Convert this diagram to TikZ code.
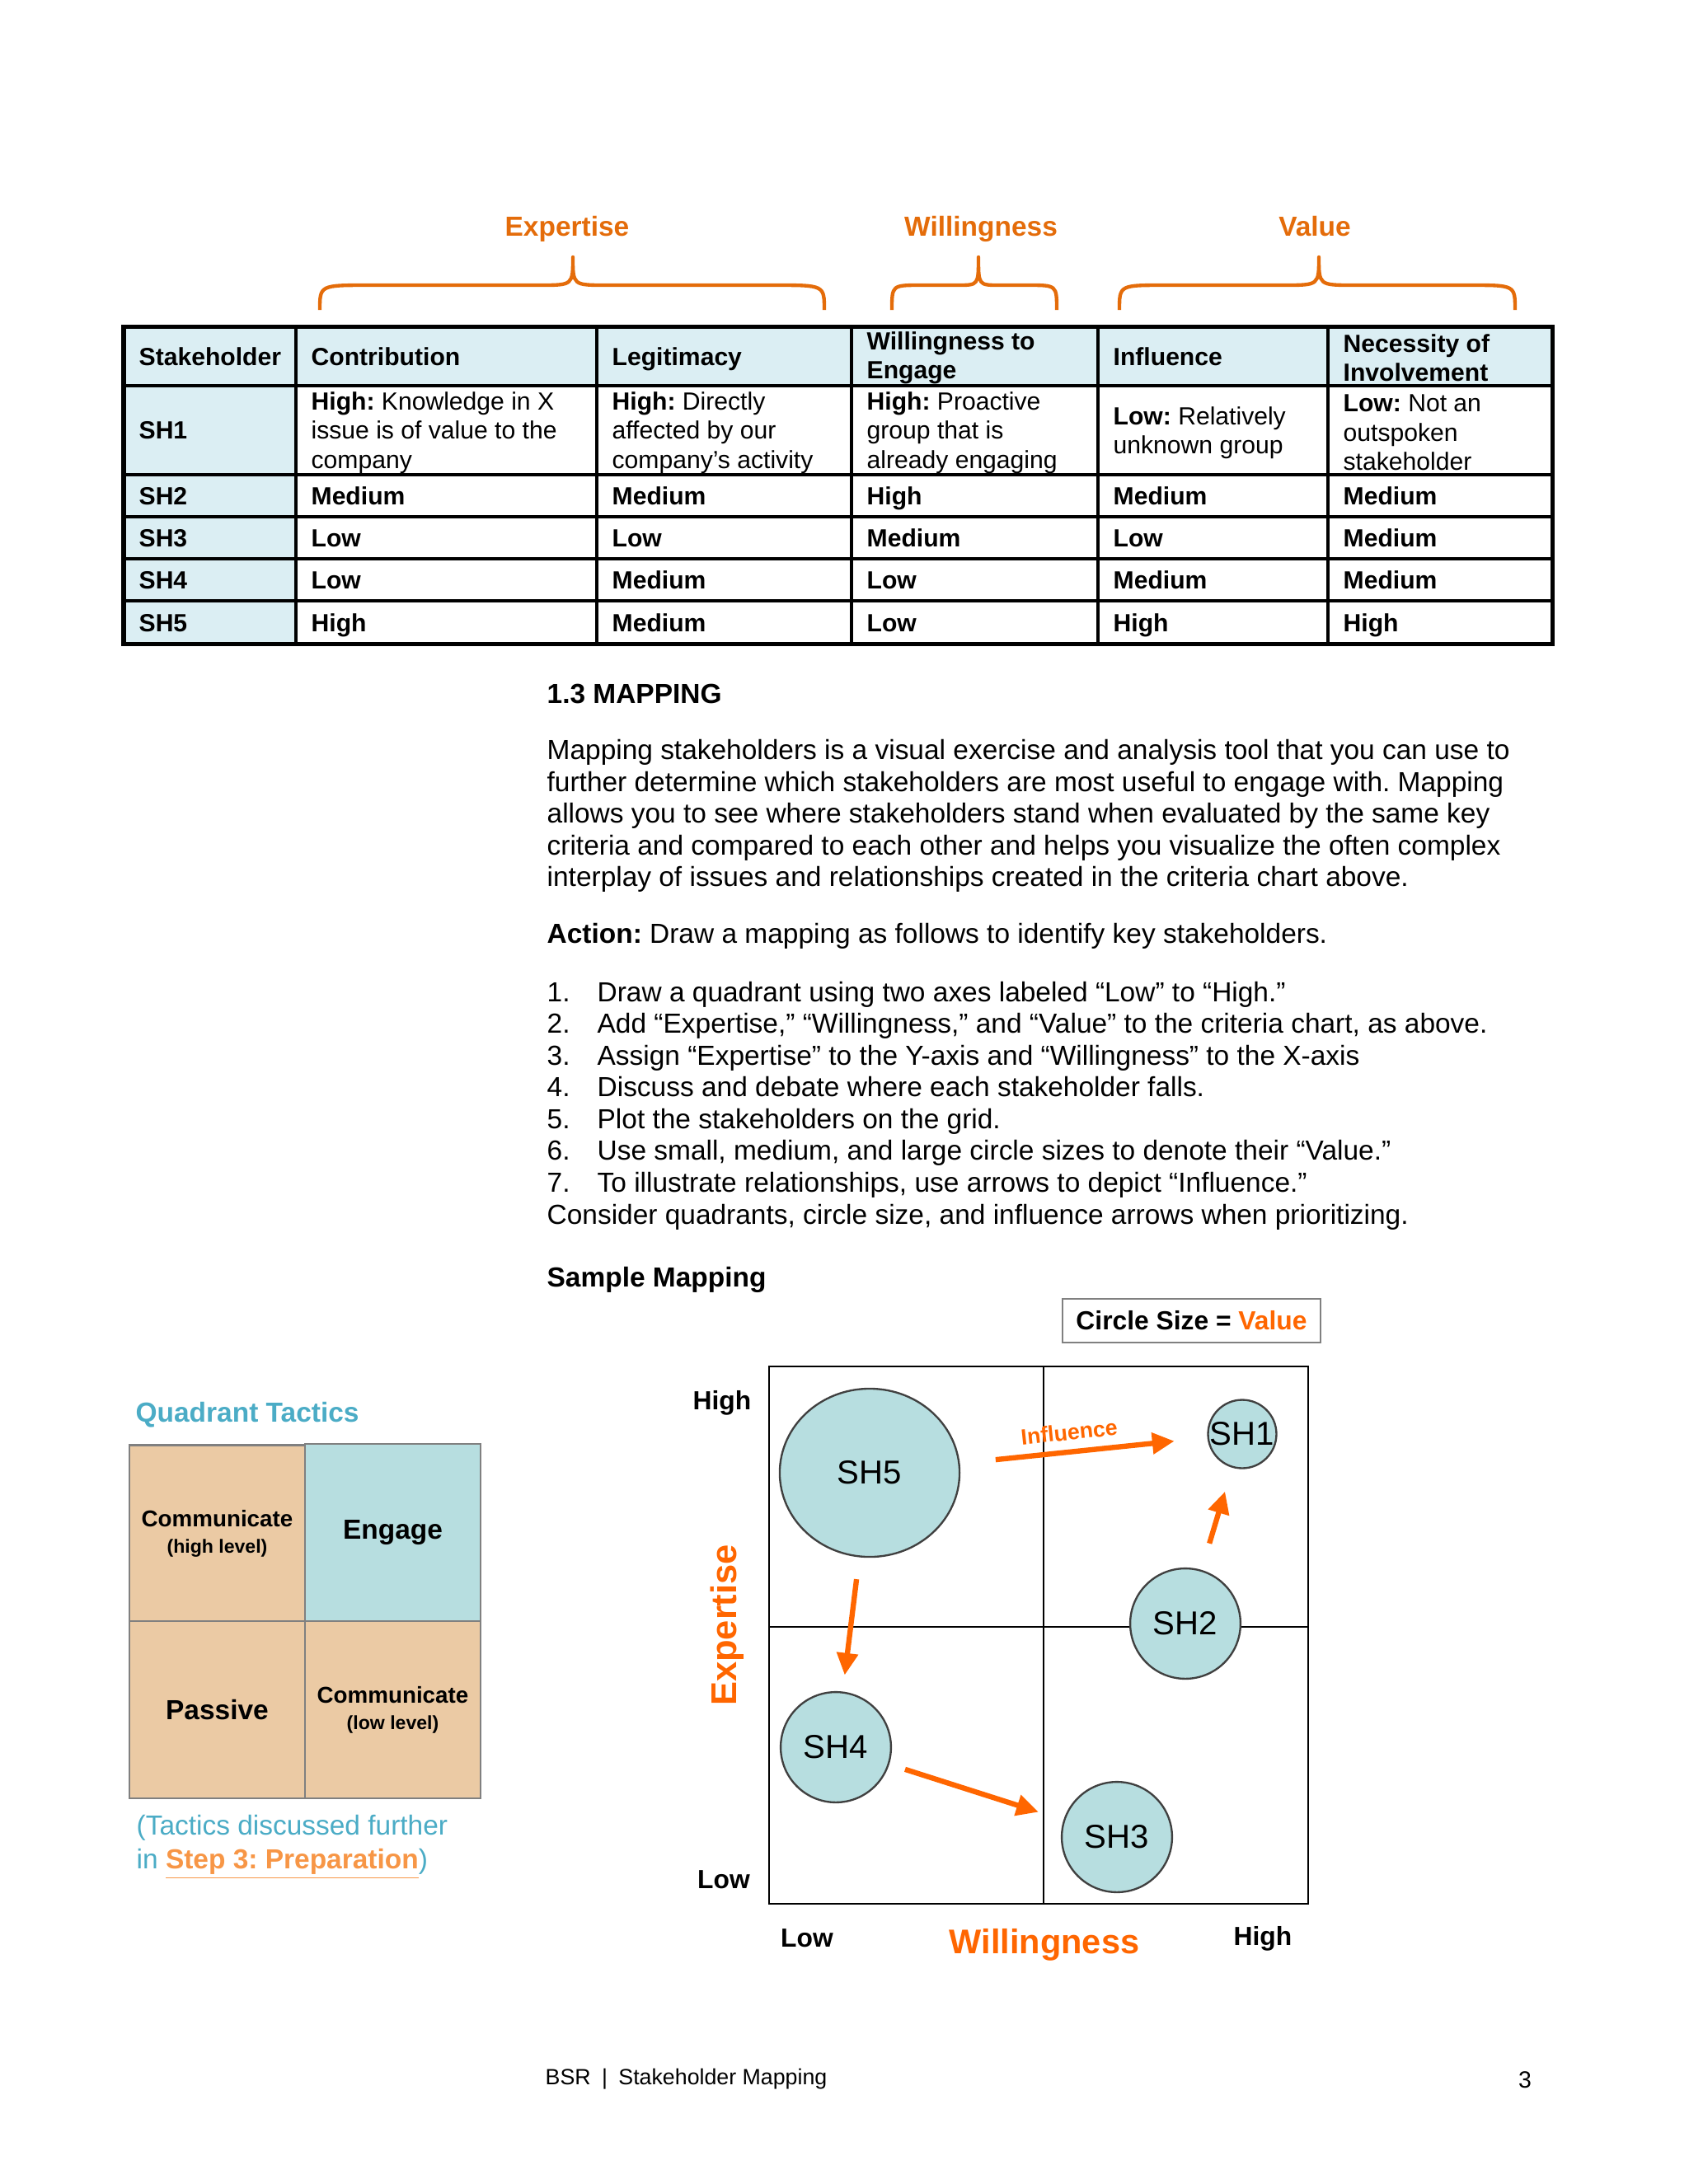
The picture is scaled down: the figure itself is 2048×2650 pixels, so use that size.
\documentclass[tikz,border=0pt]{standalone}
\usepackage{fontspec}
\setmainfont{Liberation Sans}
\usetikzlibrary{arrows.meta, shapes.geometric}
\definecolor{tblblue}{HTML}{DBEEF3}
\definecolor{braceorange}{HTML}{E46C0A}
\definecolor{maporange}{HTML}{FF6600}
\definecolor{tacticsteal}{HTML}{4BACC6}
\definecolor{linkorange}{HTML}{F79646}
\definecolor{quadtan}{HTML}{EBCAA4}
\definecolor{shfill}{HTML}{B7DEE0}
\frenchspacing

\newcommand{\fsz}[2]{\fontsize{#1}{#2}\selectfont}
% left end, tip, right end, end radius, tip radius
\newcommand{\critbrace}[5]{%
  \draw[bracestyle] (#1,376) .. controls (#1,346) .. (#1+#4,346) -- (#2-#5,346)
    .. controls (#2,346) .. (#2,312) .. controls (#2,346) .. (#2+#5,346)
    -- (#3-#4,346) .. controls (#3,346) .. (#3,376);}

\begin{document}
\begin{tikzpicture}[x=0.29887pt, y=-0.29887pt,
  bodytxt/.style={font=\fsz{10}{11.5}, inner sep=0, anchor=base west},
  tblcell/.style={font=\fsz{9}{10.6}, inner sep=0, anchor=west, align=left},
  tblword/.style={font=\bfseries\fsz{9}{10.6}, inner sep=0, anchor=base west},
  tblline/.style={line width=1.2pt},
  bracestyle/.style={draw=braceorange, line width=1.3pt, line join=round},
  bracelbl/.style={font=\bfseries\fsz{10}{12}, text=braceorange, anchor=base},
  quad/.style={draw=black!50, line width=0.8pt, minimum width=63.66pt, minimum height=64.26pt, align=center, inner sep=0},
  shnode/.style={draw=black!75, line width=0.7pt, fill=shfill, circle, inner sep=0, font=\fsz{12}{14}},
  inflarrow/.style={draw=maporange, line width=1.9pt, -{Triangle[length=8pt, width=7.5pt]}},
  axislbl/.style={font=\bfseries\fsz{9.5}{11}}]

  \path[use as bounding box, fill=white] (0,0) rectangle (2048,2650);

  % criteria braces
  \critbrace{388}{695}{1000}{60}{40}
  \critbrace{1082}{1187}{1282}{35}{25}
  \critbrace{1358}{1600}{1838}{55}{42}
  \node[bracelbl] (lblexp) at (688,286) {Expertise};
  \node[bracelbl] (lblwill) at (1190,286) {Willingness};
  \node[bracelbl] (lblval) at (1595,286) {Value};

  % criteria table
  \fill[tblblue] (150,396) rectangle (1883,468);
  \fill[tblblue] (150,468) rectangle (359,781);
  \foreach \y in {468,576,627,678,729}
    \draw[tblline] (150,\y) -- (1883,\y);
  \foreach \x in {359,724,1033,1332,1611}
    \draw[tblline] (\x,396) -- (\x,781);
  \draw[line width=1.5pt] (150,396) rectangle (1883,781);

  \foreach \x/\t [count=\i] in {168/Stakeholder, 377/Contribution, 742/Legitimacy, 1350/Influence}
    \node[tblword] (hd\i) at (\x,443) {\t};
  \node[tblcell, font=\bfseries\fsz{9}{10.6}] (hd5) at (1051,434) {Willingness to\\Engage};
  \node[tblcell, font=\bfseries\fsz{9}{10.6}] (hd6) at (1629,434) {Necessity of\\Involvement};

  \node[tblword] (SH1-0) at (168,532) {SH1};
  \node[tblcell] (SH1-1) at (377,525) {\textbf{High:} Knowledge in X\\issue is of value to the\\company};
  \node[tblcell] (SH1-2) at (742,525) {\textbf{High:} Directly\\affected by our\\company’s activity};
  \node[tblcell] (SH1-3) at (1051,525) {\textbf{High:} Proactive\\group that is\\already engaging};
  \node[tblcell] (SH1-4) at (1350,525) {\textbf{Low:} Relatively\\unknown group};
  \node[tblcell] (SH1-5) at (1629,525) {\textbf{Low:} Not an\\outspoken\\stakeholder};

  \foreach \y/\a/\b/\c/\d/\e/\f in {612/SH2/Medium/Medium/High/Medium/Medium,
      663/SH3/Low/Low/Medium/Low/Medium, 714/SH4/Low/Medium/Low/Medium/Medium,
      766/SH5/High/Medium/Low/High/High} {
    \node[tblword] (\a-0) at (168,\y) {\a};
    \node[tblword] (\a-1) at (377,\y) {\b};
    \node[tblword] (\a-2) at (742,\y) {\c};
    \node[tblword] (\a-3) at (1051,\y) {\d};
    \node[tblword] (\a-4) at (1350,\y) {\e};
    \node[tblword] (\a-5) at (1629,\y) {\f};
  }

  % section text
  \node[bodytxt] (sect) at (663,853) {\textbf{1.3 MAPPING}};
  \node[bodytxt, anchor=north west, align=left] (para) at (663,897)
    {Mapping stakeholders is a visual exercise and analysis tool that you can use to\\
     further determine which stakeholders are most useful to engage with. Mapping\\
     allows you to see where stakeholders stand when evaluated by the same key\\
     criteria and compared to each other and helps you visualize the often complex\\
     interplay of issues and relationships created in the criteria chart above.};
  \node[bodytxt] (action) at (663,1144) {\textbf{Action:} Draw a mapping as follows to identify key stakeholders.};
  \foreach \t [count=\i] in {{Draw a quadrant using two axes labeled “Low” to “High.”},
      {Add “Expertise,” “Willingness,” and “Value” to the criteria chart, as above.},
      {Assign “Expertise” to the Y-axis and “Willingness” to the X-axis},
      {Discuss and debate where each stakeholder falls.},
      {Plot the stakeholders on the grid.},
      {Use small, medium, and large circle sizes to denote their “Value.”},
      {To illustrate relationships, use arrows to depict “Influence.”}} {
    \node[bodytxt] (num\i) at (663,{1176.5+38.5*\i}) {\i.};
    \node[bodytxt] (item\i) at (724,{1176.5+38.5*\i}) {\t};
  }
  \node[bodytxt] (consider) at (663,1485) {Consider quadrants, circle size, and influence arrows when prioritizing.};
  \node[bodytxt] (sample) at (663,1561) {\textbf{Sample Mapping}};

  % quadrant tactics
  \node[font=\bfseries\fsz{10}{12}, text=tacticsteal, inner sep=0, anchor=base west] (qtitle) at (164,1725) {Quadrant Tactics};
  \node[quad, fill=quadtan, font=\bfseries\fsz{8.3}{9.6}] (qa) at (263.5,1861)
    {Communicate\\{\fsz{6.9}{9.6}(high level)}};
  \node[quad, fill=shfill, font=\bfseries\fsz{10}{12}] (qb) at (476.5,1859.5) {Engage};
  \node[quad, fill=quadtan, font=\bfseries\fsz{10}{12}] (qc) at (263.5,2074.5) {Passive};
  \node[quad, fill=quadtan, font=\bfseries\fsz{8.3}{9.6}] (qd) at (476.5,2074.5)
    {Communicate\\{\fsz{6.9}{9.6}(low level)}};
  \node[bodytxt, text=tacticsteal] (qnote1) at (165,2226) {(Tactics discussed further};
  \node[bodytxt, text=tacticsteal] (qnote2) at (165,2267)
    {in \textcolor{linkorange}{\textbf{\underline{Step 3: Preparation}}})};

  % sample mapping
  \node[draw=black!50, line width=0.8pt, minimum width=93.5pt, minimum height=15.8pt,
    font=\bfseries\fsz{9.5}{11}] (legend) at (1445.5,1602.5) {Circle Size = \textcolor{maporange}{Value}};
  \draw[line width=0.8pt] (933,1658) rectangle (1587,2310);
  \draw[line width=0.8pt] (1266,1658) -- (1266,2310);
  \draw[line width=0.8pt] (933,1974) -- (1587,1974);

  \node[shnode, ellipse, minimum width=65.2pt, minimum height=61pt] (sh5) at (1055,1787) {SH5};
  \node[shnode, minimum size=24.5pt] (sh1) at (1507,1740) {SH1};
  \node[shnode, minimum size=40pt] (sh2) at (1438,1970) {SH2};
  \node[shnode, minimum size=40pt] (sh4) at (1014,2120) {SH4};
  \node[shnode, minimum size=40pt] (sh3) at (1355,2229) {SH3};

  \draw[inflarrow, shorten <=13pt, shorten >=12pt] (sh5) -- (sh1)
    node[pos=0.45, above, sloped, text=maporange, font=\bfseries\fsz{8}{9}] (infl) {Influence};
  \draw[inflarrow, shorten <=10pt, shorten >=9pt] (sh2) -- (sh1);
  \draw[inflarrow, shorten <=8pt, shorten >=6pt] (sh5) -- (sh4);
  \draw[inflarrow, shorten <=6pt, shorten >=9.5pt] (sh4) -- (sh3);

  \node[axislbl] (yhigh) at (876,1702) {High};
  \node[axislbl] (ylow) at (878,2281) {Low};
  \node[axislbl] (xlow) at (979,2352) {Low};
  \node[axislbl] (xhigh) at (1532,2352) {High};
  \node[font=\bfseries\fsz{12.4}{14}, text=maporange] (xtitle) at (1267,2360) {Willingness};
  \node[font=\bfseries\fsz{13}{15}, text=maporange, rotate=90] (ytitle) at (882,1972) {Expertise};

  % footer
  \node[font=\fsz{8}{9.5}, inner sep=0, anchor=base west] (foot) at (661,2529) {BSR\hspace{4pt}|\hspace{4pt}Stakeholder Mapping};
  \node[font=\fsz{8.5}{10}, inner sep=0, anchor=base] (pgno) at (1850,2533) {3};
\end{tikzpicture}
\end{document}
